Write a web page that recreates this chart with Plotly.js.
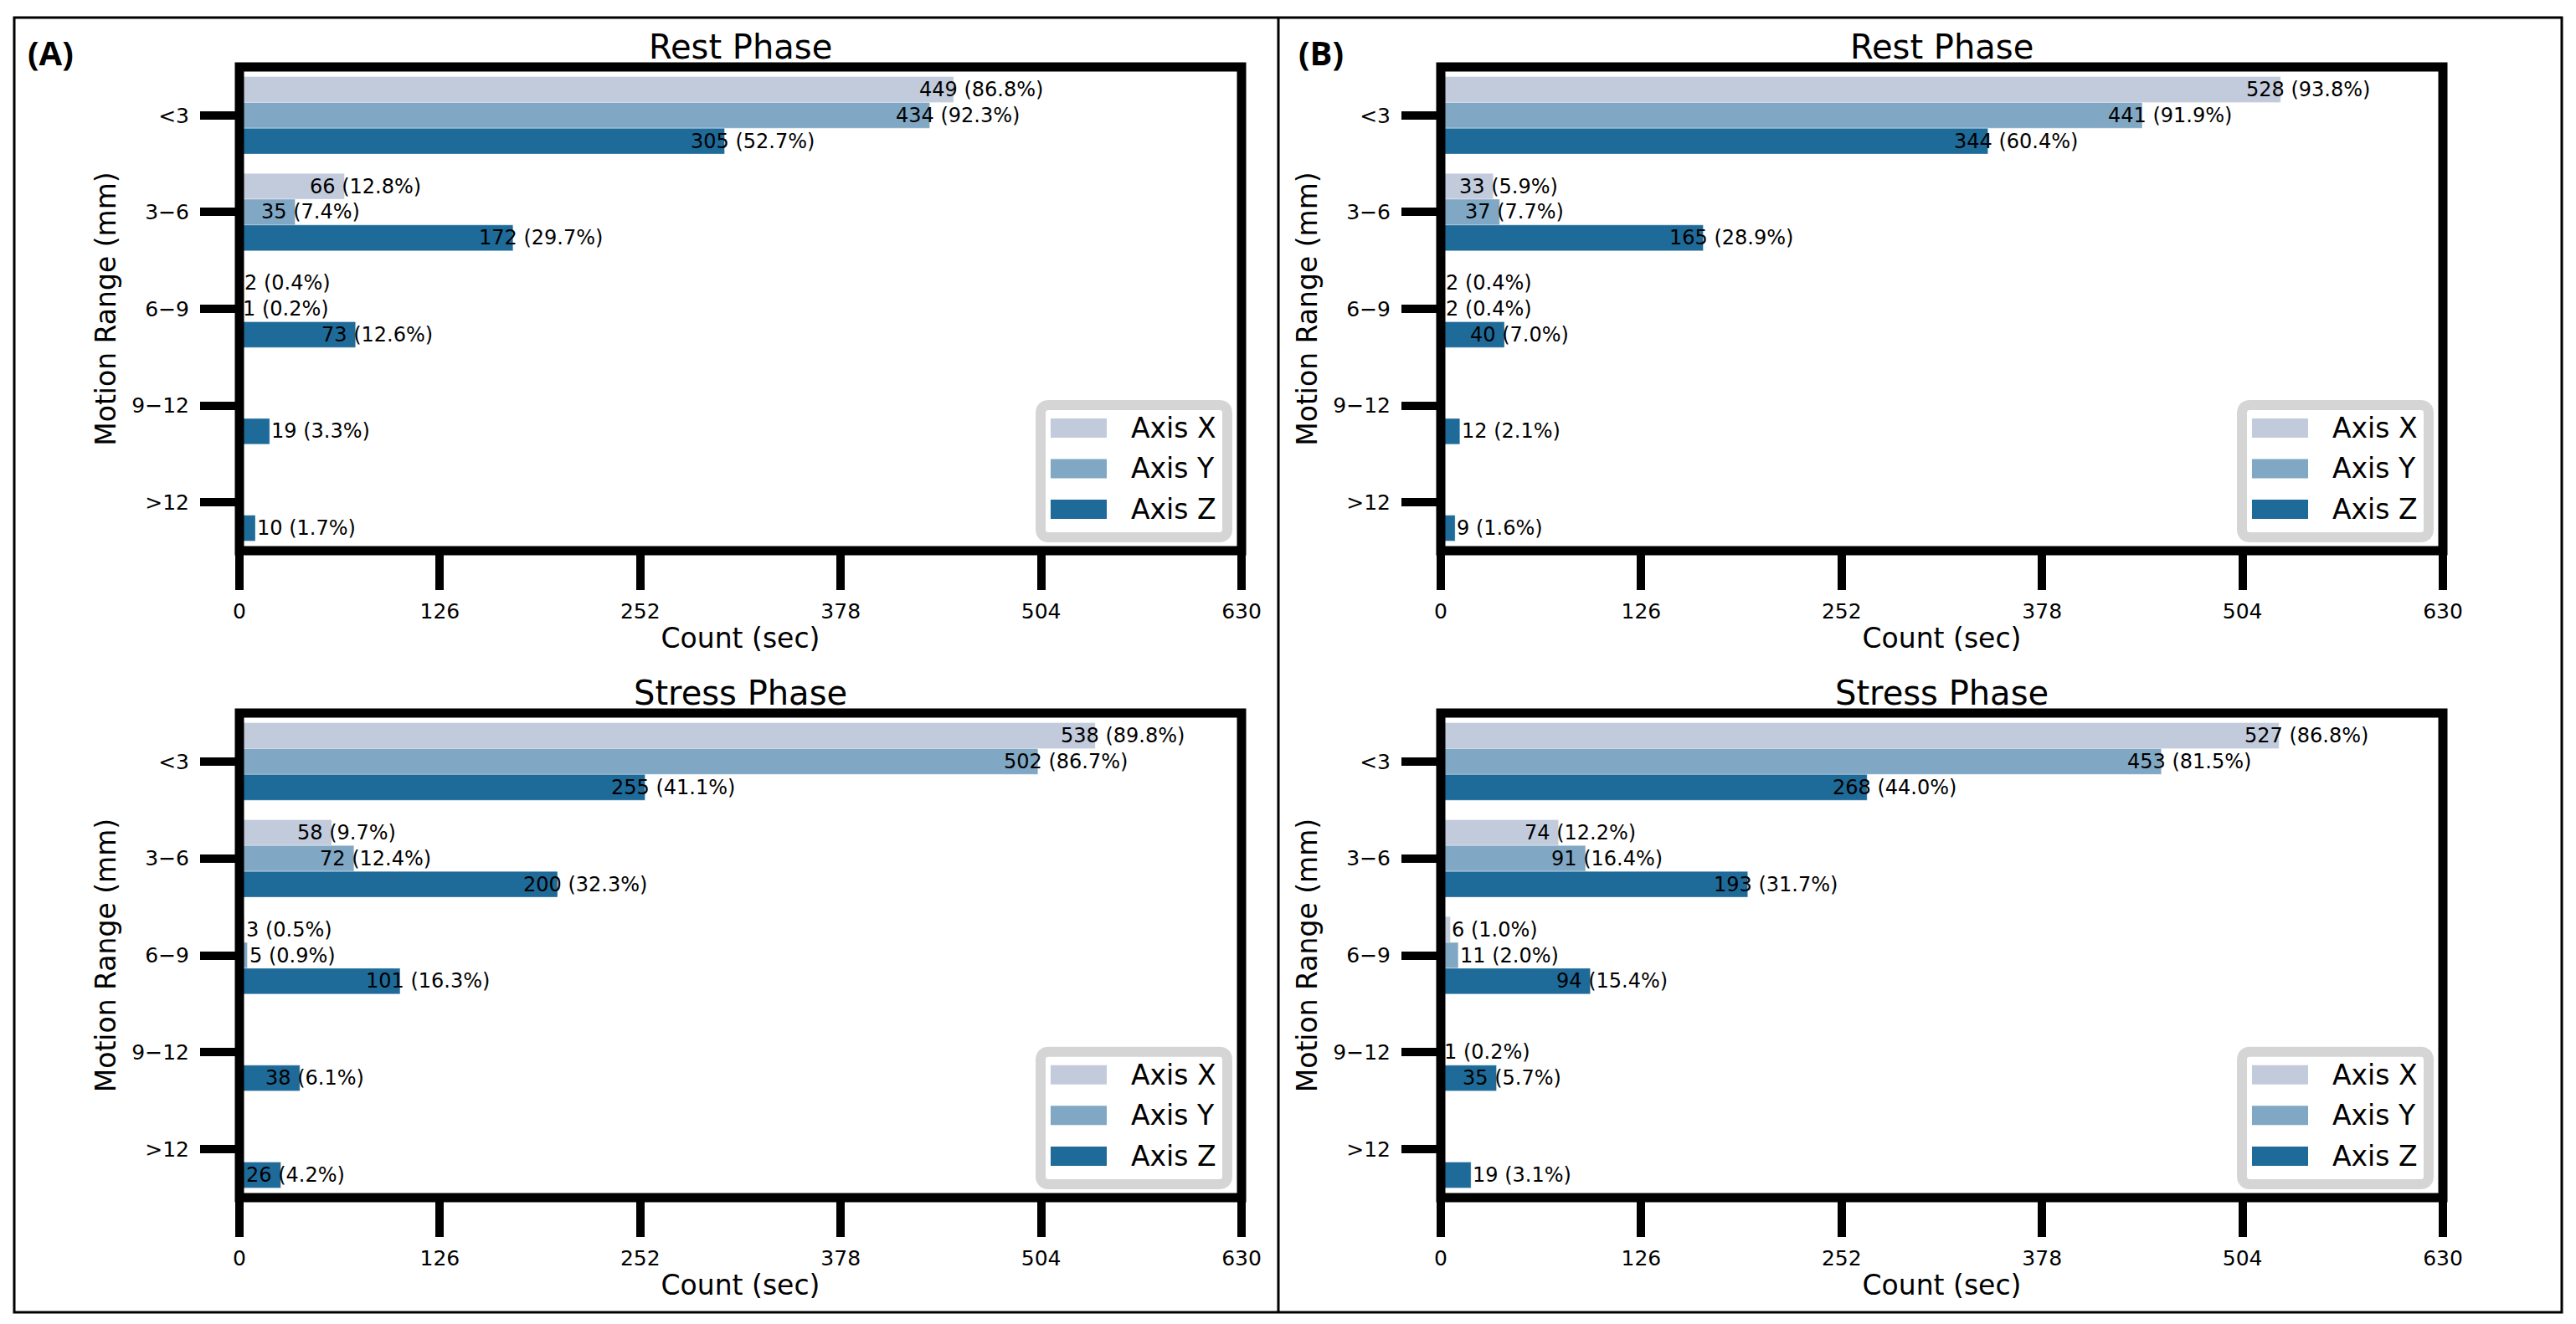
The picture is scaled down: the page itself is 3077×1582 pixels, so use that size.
<!DOCTYPE html>
<html>
<head>
<meta charset="utf-8">
<script src="https://cdn.plot.ly/plotly-3.0.1.min.js"></script>
<style>
  html, body { margin: 0; padding: 0; background: #ffffff; }
  #chart { width: 3077px; height: 1582px; }
</style>
</head>
<body>
<div id="chart"></div>
<script>
// ---------------- data ----------------
const categories = ['<3', '3\u22126', '6\u22129', '9\u221212', '>12'];
const seriesNames = ['Axis X', 'Axis Y', 'Axis Z'];
const seriesColors = ['#c2cbdc', '#80a7c4', '#1e6a99'];
const xTickVals = [0, 126, 252, 378, 504, 630];
const panelTitles = ['Rest Phase', 'Stress Phase', 'Rest Phase', 'Stress Phase'];
const panelLetters = ['(A)', '(B)'];
const xTitle = 'Count (sec)';
const yTitle = 'Motion Range (mm)';

// (A) Rest phase
const aRestX = [449, 66, 2, 0, 0];
const aRestY = [434, 35, 1, 0, 0];
const aRestZ = [305, 172, 73, 19, 10];
const aRestXPct = [86.8, 12.8, 0.4, 0, 0];
const aRestYPct = [92.3, 7.4, 0.2, 0, 0];
const aRestZPct = [52.7, 29.7, 12.6, 3.3, 1.7];

// (A) Stress phase
const aStressX = [538, 58, 3, 0, 0];
const aStressY = [502, 72, 5, 0, 0];
const aStressZ = [255, 200, 101, 38, 26];
const aStressXPct = [89.8, 9.7, 0.5, 0, 0];
const aStressYPct = [86.7, 12.4, 0.9, 0, 0];
const aStressZPct = [41.1, 32.3, 16.3, 6.1, 4.2];

// (B) Rest phase
const bRestX = [528, 33, 2, 0, 0];
const bRestY = [441, 37, 2, 0, 0];
const bRestZ = [344, 165, 40, 12, 9];
const bRestXPct = [93.8, 5.9, 0.4, 0, 0];
const bRestYPct = [91.9, 7.7, 0.4, 0, 0];
const bRestZPct = [60.4, 28.9, 7.0, 2.1, 1.6];

// (B) Stress phase
const bStressX = [527, 74, 6, 0, 0];
const bStressY = [453, 91, 11, 1, 0];
const bStressZ = [268, 193, 94, 35, 19];
const bStressXPct = [86.8, 12.2, 1.0, 0, 0];
const bStressYPct = [81.5, 16.4, 2.0, 0.2, 0];
const bStressZPct = [44.0, 31.7, 15.4, 5.7, 3.1];

// ---------------- layout geometry (pixels) ----------------
const W = 3077, H = 1582;
const FONT = 'DejaVu Sans, Verdana, sans-serif';
const colPx = [[286, 1483], [1721, 2918]];
const rowPx = [[80, 658], [852, 1431]];
const px2x = p => p / W;
const px2y = p => 1 - p / H;

const panels = [
  { col: 0, row: 0, ax: '',  vals: [aRestX, aRestY, aRestZ],       pct: [aRestXPct, aRestYPct, aRestZPct] },
  { col: 0, row: 1, ax: '2', vals: [aStressX, aStressY, aStressZ], pct: [aStressXPct, aStressYPct, aStressZPct] },
  { col: 1, row: 0, ax: '3', vals: [bRestX, bRestY, bRestZ],       pct: [bRestXPct, bRestYPct, bRestZPct] },
  { col: 1, row: 1, ax: '4', vals: [bStressX, bStressY, bStressZ], pct: [bStressXPct, bStressYPct, bStressZPct] }
];

const traces = [];
const annotations = [];
const shapes = [];
const layout = {
  width: W, height: H,
  margin: { l: 0, r: 0, t: 0, b: 0 },
  paper_bgcolor: '#ffffff',
  plot_bgcolor: '#ffffff',
  showlegend: false,
  barmode: 'group',
  bargap: 0.2,
  bargroupgap: 0,
  font: { family: FONT, color: '#000000' }
};

const barW = 0.8 / 3;

panels.forEach((p, pi) => {
  const xa = 'x' + p.ax, ya = 'y' + p.ax;
  const xaKey = 'xaxis' + p.ax, yaKey = 'yaxis' + p.ax;
  const xd = [px2x(colPx[p.col][0]), px2x(colPx[p.col][1])];
  const yd = [px2y(rowPx[p.row][1]), px2y(rowPx[p.row][0])];

  layout[xaKey] = {
    domain: xd, anchor: ya, range: [0, 630],
    tickmode: 'array', tickvals: xTickVals, ticktext: xTickVals.map(String),
    ticks: 'outside', ticklen: 46, tickwidth: 10, tickcolor: '#000000',
    showgrid: false, zeroline: false, showline: false,
    tickfont: { family: FONT, size: 25, color: '#000000' },
    ticklabelstandoff: 4,
    title: { text: xTitle, font: { family: FONT, size: 33, color: '#000000' }, standoff: 6 },
    fixedrange: true
  };
  layout[yaKey] = {
    domain: yd, anchor: xa, type: 'category',
    categoryorder: 'array', categoryarray: categories,
    range: [4.5, -0.5],
    ticks: 'outside', ticklen: 46, tickwidth: 10, tickcolor: '#000000',
    showgrid: false, zeroline: false, showline: false,
    tickfont: { family: FONT, size: 25, color: '#000000' },
    ticklabelstandoff: 8,
    title: { text: yTitle, font: { family: FONT, size: 33, color: '#000000' }, standoff: 8 },
    fixedrange: true
  };

  p.vals.forEach((vals, s) => {
    traces.push({
      type: 'bar', orientation: 'h',
      name: seriesNames[s],
      x: vals, y: categories,
      xaxis: xa, yaxis: ya,
      marker: { color: seriesColors[s], line: { color: 'rgba(255,255,255,0.35)', width: 1 } },
      hoverinfo: 'skip'
    });
    vals.forEach((v, i) => {
      if (v <= 0) return;
      annotations.push({
        xref: xa, yref: ya,
        x: v, y: i + (s - 1) * barW,
        xanchor: 'left', yanchor: 'middle',
        xshift: v > 20 ? -42 : 1,
        text: v + ' (' + p.pct[s][i].toFixed(1) + '%)',
        showarrow: false, borderpad: 0,
        font: { family: FONT, size: 24, color: '#000000' }
      });
    });
  });

  // subplot title
  annotations.push({
    xref: xa + ' domain', yref: ya + ' domain',
    x: 0.5, y: 1, yshift: 24, xanchor: 'center', yanchor: 'middle',
    text: panelTitles[pi], showarrow: false,
    font: { family: FONT, size: 40, color: '#000000' }
  });

  // spines (frame)
  shapes.push({
    type: 'rect', xref: xa + ' domain', yref: ya + ' domain',
    x0: 0, x1: 1, y0: 0, y1: 1,
    line: { color: '#000000', width: 11 }, fillcolor: 'rgba(0,0,0,0)', layer: 'above'
  });

  // legend (drawn manually to match large swatches)
  const lx0 = 0.7995, lx1 = 0.9858, ly0 = 0.0277, ly1 = 0.301;
  const rx = 10 / 1197, ry = 10 / 578;
  const path = `M ${lx0 + rx},${ly0} L ${lx1 - rx},${ly0} Q ${lx1},${ly0} ${lx1},${ly0 + ry} ` +
               `L ${lx1},${ly1 - ry} Q ${lx1},${ly1} ${lx1 - rx},${ly1} ` +
               `L ${lx0 + rx},${ly1} Q ${lx0},${ly1} ${lx0},${ly1 - ry} ` +
               `L ${lx0},${ly0 + ry} Q ${lx0},${ly0} ${lx0 + rx},${ly0} Z`;
  shapes.push({
    type: 'path', xref: xa + ' domain', yref: ya + ' domain', path: path,
    line: { color: '#d5d5d5', width: 12 }, fillcolor: '#ffffff', layer: 'above'
  });
  const rowsY = [0.2535, 0.1696, 0.0856];
  const sh = 23 / 578 / 2;
  seriesNames.forEach((nm, s) => {
    shapes.push({
      type: 'rect', xref: xa + ' domain', yref: ya + ' domain',
      x0: 0.8095, x1: 0.8655, y0: rowsY[s] - sh, y1: rowsY[s] + sh,
      line: { width: 0 }, fillcolor: seriesColors[s], layer: 'above'
    });
    annotations.push({
      xref: xa + ' domain', yref: ya + ' domain',
      x: 0.8889, y: rowsY[s], xanchor: 'left', yanchor: 'middle',
      text: nm, showarrow: false, borderpad: 0,
      font: { family: FONT, size: 33, color: '#000000' }
    });
  });
});

// panel letters
annotations.push({
  xref: 'paper', yref: 'paper', x: px2x(60), y: px2y(63), xanchor: 'center', yanchor: 'middle',
  text: '<b>' + panelLetters[0] + '</b>', showarrow: false,
  font: { family: 'Open Sans, DejaVu Sans, sans-serif', size: 40, color: '#000000' }
});
annotations.push({
  xref: 'paper', yref: 'paper', x: px2x(1578), y: px2y(63), xanchor: 'center', yanchor: 'middle',
  text: '<b>' + panelLetters[1] + '</b>', showarrow: false,
  font: { family: 'Open Sans, DejaVu Sans, sans-serif', size: 40, color: '#000000' }
});

// outer frame and divider
shapes.push({
  type: 'rect', xref: 'paper', yref: 'paper',
  x0: px2x(17), x1: px2x(3060), y0: px2y(1568), y1: px2y(21),
  line: { color: '#000000', width: 3 }, fillcolor: 'rgba(0,0,0,0)', layer: 'above'
});
shapes.push({
  type: 'line', xref: 'paper', yref: 'paper',
  x0: px2x(1527), x1: px2x(1527), y0: px2y(1568), y1: px2y(21),
  line: { color: '#000000', width: 3 }, layer: 'above'
});

layout.annotations = annotations;
layout.shapes = shapes;

Plotly.newPlot('chart', traces, layout, { staticPlot: true, displayModeBar: false });
</script>
</body>
</html>
